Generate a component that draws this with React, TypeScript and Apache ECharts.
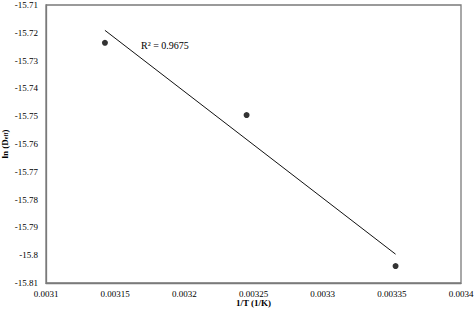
import React, { useEffect, useRef } from "react";
import * as echarts from "echarts";

const xValues = [0.0031426, 0.003245, 0.0033527];
const yValues = [-15.7236, -15.7496, -15.8039];
const r2Label = "R² = 0.9675";
const xAxisName = "1/T (1/K)";

function regression(xs: number[], ys: number[]) {
  const n = xs.length;
  const mx = xs.reduce((a, b) => a + b, 0) / n;
  const my = ys.reduce((a, b) => a + b, 0) / n;
  let sxy = 0;
  let sxx = 0;
  for (let i = 0; i < n; i++) {
    sxy += (xs[i] - mx) * (ys[i] - my);
    sxx += (xs[i] - mx) * (xs[i] - mx);
  }
  const slope = sxy / sxx;
  return { slope, intercept: my - slope * mx };
}

export default function App() {
  const ref = useRef<HTMLDivElement>(null);
  useEffect(() => {
    if (!ref.current) return;
    const chart = echarts.init(ref.current, undefined, { renderer: "svg" });
    const { slope, intercept } = regression(xValues, yValues);
    const xMin = Math.min(...xValues);
    const xMax = Math.max(...xValues);
    const trend = [
      [xMin, slope * xMin + intercept],
      [xMax, slope * xMax + intercept],
    ];
    const font = "Liberation Serif";
    chart.setOption({
      animation: false,
      backgroundColor: "#fff",
      grid: {
        left: 46,
        right: 13,
        top: 5,
        bottom: 28,
        outerBoundsMode: "none",
        containLabel: false,
        show: true,
        borderColor: "#7a7a7a",
        borderWidth: 1.3,
      },
      xAxis: {
        type: "value",
        min: 0.0031,
        max: 0.0034,
        interval: 0.00005,
        name: xAxisName,
        nameLocation: "middle",
        nameGap: 15,
        nameMoveOverlap: false,
        nameTextStyle: { fontFamily: font, fontSize: 9, fontWeight: "bold", color: "#000" },
        axisLine: { show: true, lineStyle: { color: "#7a7a7a", width: 1.3 } },
        axisTick: { show: false },
        splitLine: { show: false },
        axisLabel: {
          fontFamily: font,
          fontSize: 9,
          color: "#000",
          margin: 6,
          formatter: (v: number) => parseFloat(v.toPrecision(6)).toString(),
        },
      },
      yAxis: {
        type: "value",
        min: -15.81,
        max: -15.71,
        interval: 0.01,
        name: "{a|ln (D}{b|eff}{a|)}",
        nameLocation: "middle",
        nameRotate: 90,
        nameGap: 37,
        nameMoveOverlap: false,
        nameTextStyle: {
          fontFamily: font,
          fontWeight: "bold",
          color: "#000",
          rich: {
            a: { fontFamily: font, fontSize: 9, fontWeight: "bold", color: "#000" },
            b: { fontFamily: font, fontSize: 6, fontWeight: "bold", color: "#000", verticalAlign: "bottom", padding: [3, 0, 0, 0] },
          },
        },
        axisLine: { show: true, lineStyle: { color: "#7a7a7a", width: 1.3 } },
        axisTick: { show: false },
        splitLine: { show: false },
        axisLabel: {
          fontFamily: font,
          fontSize: 9,
          color: "#000",
          margin: 8,
          formatter: (v: number) => parseFloat(v.toFixed(2)).toString(),
        },
      },
      series: [
        {
          type: "line",
          data: trend,
          symbol: "none",
          lineStyle: { color: "#111", width: 1 },
          silent: true,
        },
        {
          type: "scatter",
          data: xValues.map((x, i) => [x, yValues[i]]),
          symbol: "circle",
          symbolSize: 6,
          itemStyle: { color: "#000" },
        },
      ],
      graphic: [
        {
          type: "text",
          left: 141,
          top: 40,
          style: { text: r2Label, fontFamily: font, fontSize: 10, fill: "#000" },
        },
      ],
    });
    return () => chart.dispose();
  }, []);
  return (
    <div
      ref={ref}
      style={{ position: "fixed", left: 0, top: 0, width: 474, height: 311 }}
    />
  );
}
